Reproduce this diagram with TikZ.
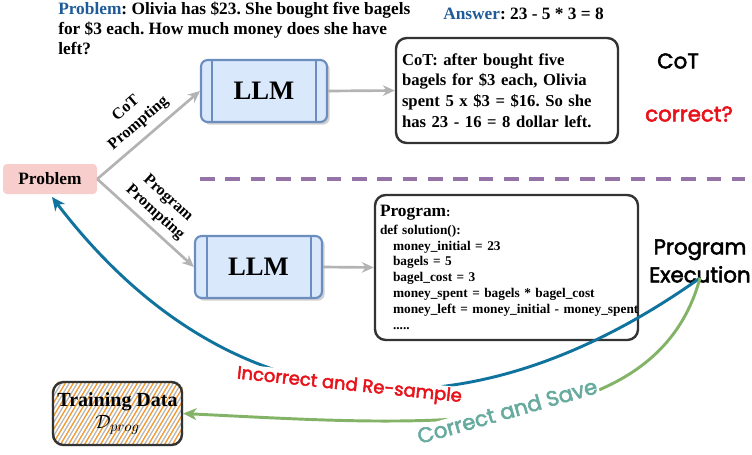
\documentclass[tikz,border=0pt]{standalone}
\usepackage{fontspec}
\setmainfont{Liberation Serif}
\newfontfamily\comicfont[FakeBold=2.5]{Poppins}
\usetikzlibrary{arrows.meta,shadows,backgrounds,calc}
\AtBeginDocument{\frenchspacing}

\definecolor{qblue}{RGB}{31,91,153}
\definecolor{llmfill}{HTML}{DAE8FC}
\definecolor{llmdraw}{HTML}{6C8EBF}
\definecolor{probfill}{HTML}{F8CECC}
\definecolor{arrowgray}{HTML}{B3B3B3}
\definecolor{dashpurple}{HTML}{9673A6}
\definecolor{loopblue}{HTML}{10739E}
\definecolor{savegreen}{HTML}{82B366}
\definecolor{savetext}{HTML}{67AB9F}
\definecolor{wrongred}{RGB}{232,18,27}
\definecolor{sketch}{HTML}{333333}
\definecolor{hatchorange}{HTML}{F0982E}
\definecolor{hatchgray}{HTML}{B8B8B8}

\begin{document}
\begin{tikzpicture}[x=0.75pt,y=-0.75pt,
  llmbox/.style={draw=llmdraw, fill=llmfill, line width=1.6pt, rounded corners=5pt,
    minimum height=46.5pt, font=\bfseries\fontsize{20}{24}\selectfont,
    drop shadow={shadow xshift=2pt, shadow yshift=-2pt, fill=black!40, opacity=0.45}},
  llmedge/.style={draw=llmdraw, line width=1.6pt},
  sketchbox/.style={draw=sketch, line width=1.8pt, rounded corners=8pt},
  probbox/.style={fill=probfill, rounded corners=3pt, minimum width=70.5pt, minimum height=22.5pt,
    font=\bfseries\fontsize{13}{15}\selectfont},
  grayarrow/.style={draw=arrowgray, line width=2pt, -{Stealth[length=9pt,width=8pt,inset=3pt]}},
  promptlabel/.style={align=center, font=\bfseries\fontsize{12}{14.5}\selectfont, inner sep=2pt},
  bodytext/.style={font=\bfseries\fontsize{12.5}{15.5}\selectfont},
  comictext/.style={font=\comicfont\fontsize{16}{21}\selectfont},
  loopline/.style={draw=loopblue, line width=2.2pt, -{Stealth[length=10pt,width=9pt,inset=3pt]}},
  saveline/.style={draw=savegreen, line width=2.2pt, -{Stealth[length=10pt,width=9pt,inset=3pt]}},
  dashline/.style={draw=dashpurple, line width=3pt, dash pattern=on 11pt off 8pt}
]
\useasboundingbox (0,0) rectangle (752,454);

% question and answer
\node[anchor=north west, inner sep=0pt, align=left, font=\bfseries\fontsize{13}{15}\selectfont] (question) at (58,2)
  {\textcolor{qblue}{Problem}: Olivia has \$23. She bought five bagels\\for \$3 each. How much money does she have\\left?};
\node[anchor=base west, inner sep=0pt, font=\bfseries\fontsize{13}{15}\selectfont] (answer) at (443,19)
  {\textcolor{qblue}{Answer}: 23 - 5 * 3 = 8};

% nodes
\node[probbox] (prob) at (50,179) {Problem};
\node[llmbox, minimum width=94.5pt] (llm1) at (264,91) {LLM};
\node[llmbox, minimum width=95.25pt] (llm2) at (258.5,267) {LLM};
\draw[llmedge] ([xshift=9pt]llm1.north west) -- ([xshift=9pt]llm1.south west);
\draw[llmedge] ([xshift=-9pt]llm1.north east) -- ([xshift=-9pt]llm1.south east);
\draw[llmedge] ([xshift=9.5pt]llm2.north west) -- ([xshift=9.5pt]llm2.south west);
\draw[llmedge] ([xshift=-9pt]llm2.north east) -- ([xshift=-9pt]llm2.south east);

\node[sketchbox, bodytext, minimum width=166.5pt, minimum height=78.75pt, align=left,
      text width=157.5pt, inner xsep=4.5pt] (cotbox) at (507,90.5)
  {CoT: after bought five\\bagels for \$3 each, Olivia\\spent 5 x \$3 = \$16. So she\\has 23 - 16 = 8 dollar left.};

\node[sketchbox, minimum width=197.25pt, minimum height=108.75pt, align=left,
      text width=189.75pt, inner xsep=3.75pt, font=\bfseries\fontsize{10}{11.9}\selectfont] (progbox) at (506.5,267.5)
  {{\fontsize{13}{15}\selectfont Program}:\\[1.1pt]
   def solution():\\
   \hspace*{9.75pt}money\_initial = 23\\
   \hspace*{9.75pt}bagels = 5\\
   \hspace*{9.75pt}bagel\_cost = 3\\
   \hspace*{9.75pt}money\_spent = bagels * bagel\_cost\\
   \hspace*{9.75pt}\makebox[0pt][l]{money\_left = money\_initial - money\_spent}\\
   \hspace*{9.75pt}.....};

\node[sketchbox, minimum width=96.75pt, minimum height=47.25pt, align=center, inner sep=0pt,
      font=\bfseries\fontsize{15}{16.5}\selectfont] (train) at (117.5,413.5)
  {Training Data\\$\mathcal{D}_{prog}$};
\begin{scope}[on background layer]
  \clip[rounded corners=8pt] (train.south west) rectangle (train.north east);
  \foreach \x in {0,8,...,200} {
    \draw[hatchorange, line width=1pt] (\x,452) -- ++(45,-75);
    \draw[hatchgray, line width=1pt] (\x+4,452) -- ++(45,-75);
  }
\end{scope}

% side labels
\node[comictext] (cotlabel) at (678,61) {CoT};
\node[comictext, text=wrongred] (correctq) at (689,114) {correct?};
\node[comictext, align=center] (exec) at (700,261) {Program\\Execution};
\coordinate (execout) at (700,278);
\coordinate (probin) at (52,197);

% divider
\draw[dashline] (200,179) -- (745,179);

% arrows
\draw[grayarrow] (prob.east) -- (llm1.west)
  node[midway, sloped, above=3pt, promptlabel] (cotprompt) {CoT\\Prompting};
\draw[grayarrow] (prob.east) -- (llm2.west)
  node[midway, sloped, above=2pt, promptlabel] (progprompt) {Program\\Prompting};
\draw[grayarrow] (llm1.east) -- (cotbox.west);
\draw[grayarrow] (llm2.east) -- (progbox.west);

\draw[loopline] (execout) .. controls (458,450) and (223,421) .. (probin)
  node[pos=0.5, rotate=-6, fill=white, inner sep=1pt, text=wrongred,
       font=\comicfont\fontsize{13.5}{16}\selectfont] (incorrect) {Incorrect and Re-sample};
\draw[saveline] (execout) .. controls (655,445) and (420,425) .. (train.east)
  node[pos=0.51, rotate=16, fill=white, inner sep=1pt, yshift=2pt, text=savetext,
       font=\comicfont\fontsize{16}{19}\selectfont] (save) {Correct and Save};
\end{tikzpicture}
\end{document}
